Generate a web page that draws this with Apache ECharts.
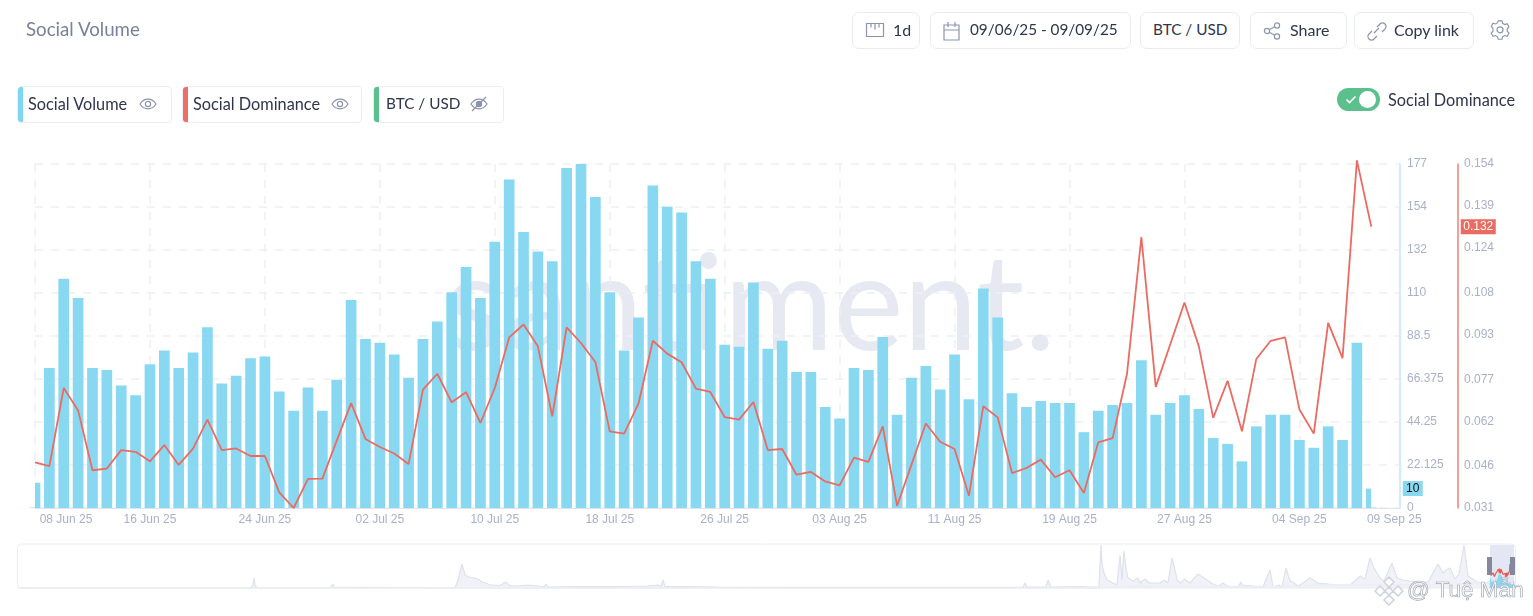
<!DOCTYPE html>
<html><head><meta charset="utf-8">
<style>
html,body{margin:0;padding:0;background:#fff;width:1533px;height:616px;overflow:hidden}
#chart{position:absolute;left:0;top:0;width:1533px;height:616px}
.ui{position:absolute;font-family:Lato,"Open Sans",sans-serif;color:#2f354d;font-size:16px;white-space:nowrap;box-sizing:border-box}
.btn{top:12px;height:37px;border:1px solid #e9ebf3;border-radius:7px;background:#fff;line-height:33px}
.btn span{position:absolute;top:0}
.btn svg,.leg svg{position:absolute}
.leg{top:86px;height:37px;border:1px solid #ebedf4;border-radius:4px;background:#fff;line-height:33px;overflow:hidden;font-size:16.3px}
.leg i{position:absolute;left:0;top:0;bottom:0;width:5px}
.leg span{position:absolute;top:0}
svg{fill:none;stroke:#8d93ad;stroke-width:1.2}
</style></head><body>
<div id="chart"></div>
<div class="ui" style="left:26px;top:18px;font-size:18.7px;color:#7a8099">Social Volume</div>

<div class="ui btn" style="left:852px;width:68px"><svg style="left:12px;top:9px" width="20" height="16"><path d="M1.5 1.5h17v13h-17zM6 1.5v4M10 1.5v6M14 1.5v4"/></svg><span style="left:40px">1d</span></div>
<div class="ui btn" style="left:930px;width:201px"><svg style="left:11px;top:7px" width="20" height="22"><path d="M2 5h15v15H2zM2 10h15M6 2v5M13 2v5"/></svg><span style="left:39px;font-size:15.3px">09/06/25 - 09/09/25</span></div>
<div class="ui btn" style="left:1140px;width:100px"><span style="left:12px;font-size:15.3px">BTC / USD</span></div>
<div class="ui btn" style="left:1250px;width:97px"><svg style="left:12px;top:9px" width="20" height="18"><circle cx="4" cy="9" r="2.6"/><circle cx="14" cy="3.5" r="2.6"/><circle cx="14" cy="14.5" r="2.6"/><path d="M6.3 7.8l5.4-3M6.3 10.2l5.4 3"/></svg><span style="left:39px">Share</span></div>
<div class="ui btn" style="left:1354px;width:120px"><svg style="left:10px;top:7px" width="22" height="22"><path d="M9 13l5-5M7 11l-3 3a3.4 3.4 0 0 0 5 5l3-3M12 7l3-3a3.4 3.4 0 0 1 5 5l-3 3"/></svg><span style="left:39px">Copy link</span></div>
<svg class="ui" style="left:1490px;top:20px" width="20" height="20"><path d="M8 1.5h4l.6 2.6 2.3 1.3 2.5-.8 2 3.4-1.9 1.9v2.6l1.9 1.9-2 3.4-2.5-.8-2.3 1.3-.6 2.6H8l-.6-2.6-2.3-1.3-2.5.8-2-3.4 1.9-1.9V9.3L.6 7.4l2-3.4 2.5.8 2.3-1.3z" transform="translate(0.6 -0.6) scale(.95)"/><circle cx="10" cy="9.8" r="3"/></svg>

<div class="ui leg" style="left:17px;width:155px"><i style="background:#7fd6f2"></i><span style="left:10px">Social Volume</span><svg style="left:121px;top:10px" width="18" height="14"><path d="M1 7c4-6.5 12-6.5 16 0-4 6.5-12 6.5-16 0z"/><circle cx="9" cy="7" r="2.6"/></svg></div>
<div class="ui leg" style="left:182px;width:180px"><i style="background:#ef6f66"></i><span style="left:10px">Social Dominance</span><svg style="left:148px;top:10px" width="18" height="14"><path d="M1 7c4-6.5 12-6.5 16 0-4 6.5-12 6.5-16 0z"/><circle cx="9" cy="7" r="2.6"/></svg></div>
<div class="ui leg" style="left:373px;width:131px;font-size:15.3px"><i style="background:#5cc08d"></i><span style="left:12px">BTC / USD</span><svg style="left:96px;top:9px" width="18" height="16"><path d="M1 8c4-6.5 12-6.5 16 0-4 6.5-12 6.5-16 0z"/><circle cx="9" cy="8" r="2.6" fill="#8d93ad"/><path d="M2 15L16 1"/></svg></div>

<div class="ui" style="left:1337px;top:88px;width:43px;height:23px;border-radius:12px;background:#5cc08d"><svg style="position:absolute;left:8px;top:6px;stroke:#fff;stroke-width:1.6" width="12" height="11"><path d="M1.5 5.5l3 3 6-6"/></svg><div style="position:absolute;left:22px;top:3px;width:17px;height:17px;border-radius:50%;background:#fff"></div></div>
<div class="ui" style="left:1388px;top:90px;font-size:16.3px">Social Dominance</div>

<div class="ui" style="left:1374px;top:574px;width:155px;height:36px;pointer-events:none">
<svg style="position:absolute;left:0;top:2px;stroke:#cfd2de;fill:#fff;stroke-width:1.5" width="30" height="30" viewBox="0 0 30 30"><path d="M15 1l5 5-5 5-5-5zM15 19l5 5-5 5-5-5zM6 10l5 5-5 5-5-5zM24 10l5 5-5 5-5-5zM15 11l4 4-4 4-4-4z"/></svg>
<div style="position:absolute;left:33px;top:3px;font:400 22.5px 'Liberation Sans',sans-serif;color:#fff;-webkit-text-stroke:.7px #a6a9b6">@ Tuệ Mẫn</div>
</div>

<script src="https://cdn.jsdelivr.net/npm/echarts@6/dist/echarts.min.js"></script>
<script>
const dates = ["08 Jun 25","09 Jun 25","10 Jun 25","11 Jun 25","12 Jun 25","13 Jun 25","14 Jun 25","15 Jun 25","16 Jun 25","17 Jun 25","18 Jun 25","19 Jun 25","20 Jun 25","21 Jun 25","22 Jun 25","23 Jun 25","24 Jun 25","25 Jun 25","26 Jun 25","27 Jun 25","28 Jun 25","29 Jun 25","30 Jun 25","01 Jul 25","02 Jul 25","03 Jul 25","04 Jul 25","05 Jul 25","06 Jul 25","07 Jul 25","08 Jul 25","09 Jul 25","10 Jul 25","11 Jul 25","12 Jul 25","13 Jul 25","14 Jul 25","15 Jul 25","16 Jul 25","17 Jul 25","18 Jul 25","19 Jul 25","20 Jul 25","21 Jul 25","22 Jul 25","23 Jul 25","24 Jul 25","25 Jul 25","26 Jul 25","27 Jul 25","28 Jul 25","29 Jul 25","30 Jul 25","31 Jul 25","01 Aug 25","02 Aug 25","03 Aug 25","04 Aug 25","05 Aug 25","06 Aug 25","07 Aug 25","08 Aug 25","09 Aug 25","10 Aug 25","11 Aug 25","12 Aug 25","13 Aug 25","14 Aug 25","15 Aug 25","16 Aug 25","17 Aug 25","18 Aug 25","19 Aug 25","20 Aug 25","21 Aug 25","22 Aug 25","23 Aug 25","24 Aug 25","25 Aug 25","26 Aug 25","27 Aug 25","28 Aug 25","29 Aug 25","30 Aug 25","31 Aug 25","01 Sep 25","02 Sep 25","03 Sep 25","04 Sep 25","05 Sep 25","06 Sep 25","07 Sep 25","08 Sep 25","09 Sep 25"];
const axisPaddingDates = ["10 Sep 25","11 Sep 25"];
const socialVolume = [13,72,118,108,72,71,63,58,74,81,72,80,93,64,68,77,78,60,50,62,50,66,107,87,85,79,67,87,96,111,124,108,137,169,142,132,127,175,177,160,111,81,98,166,155,152,127,118,84,83,116,82,86,70,70,52,46,72,71,88,48,67,73,61,79,56,113,98,59,52,55,54,54,39,50,53,54,76,48,54,58,51,36,33,24,42,48,48,35,31,42,35,85,10];
const socialDominance = [.0473,.0460,.0739,.0659,.0445,.0451,.0517,.0511,.0477,.0535,.0464,.0522,.0626,.0517,.0523,.0496,.0496,.0366,.0310,.0414,.0415,.0551,.0685,.0557,.0528,.0505,.0467,.0733,.0790,.0688,.0724,.0614,.0739,.0920,.0966,.0888,.0638,.0956,.0900,.0832,.0584,.0576,.0683,.0908,.0862,.0831,.0737,.0725,.0635,.0626,.0689,.0517,.0521,.0429,.0439,.0405,.0391,.0490,.0475,.0602,.0318,.0465,.0612,.0547,.0521,.0354,.0674,.0634,.0435,.0453,.0483,.0420,.0445,.0364,.0545,.0560,.0790,.1279,.0743,.0894,.1045,.0888,.0632,.0765,.0584,.0843,.0908,.0920,.0662,.0576,.0972,.0846,.1553,.1316];
const volumeTickLabels = ["0","22.125","44.25","66.375","88.5","110","132","154","177"];
const dominanceTicks = [.031,.046,.062,.077,.093,.108,.124,.139,.154];
const overviewPos = [0,233,235,236,237,239,312,314,315,316,318,437,440,444,447,451,456,460,464,468,472,476,482,488,491,494,500,510,520,526,528,530,560,600,630,640,643,645,647,670,700,760,900,1005,1007,1009,1028,1030,1031,1033,1060,1074,1078,1081,1083,1084,1086,1089,1095,1099,1101,1102,1104,1106,1108,1110,1115,1120,1122,1123,1127,1131,1136,1142,1146,1150,1154,1157,1159,1163,1166,1172,1180,1195,1200,1205,1210,1220,1222,1223,1224,1226,1245,1252,1254,1255,1257,1261,1264,1268,1272,1276,1280,1285,1292,1300,1310,1322,1327,1332,1338,1342,1347,1352,1356,1362,1366,1374,1379,1385,1392,1400,1410,1415,1420,1425,1428,1432,1437,1441,1446,1450,1453,1456,1459,1461,1465,1470,1474,1484,1496];
const overviewVal = [0,0,3,10,3,0,0,1,4,1,0,0,8,24,13,11,10,9,6,5,3,3,2.5,6,3,2,2,3,2,1,4,1,1.5,1.5,2,3,1.5,8,1.5,1.5,1,.7,.6,.6,5,.8,.8,8,8,.8,1.5,.8,1,1,43,25,15,8,5,3,2,33,8,37,20,10,7,10,5,6,9,5,5,5,8,5,30,18,8,5,9,5,14,4,2,5,1.5,1,2,6,3,1,1,18,18,1,1.5,3,1,20,7,5,2,5,10,5,4,3,2.5,3,8,12,9,30,20,10,7,25,10,8,7,6,6,15,24,15,18,20,9,14,43,12,10,8,6,6,5,6,8,5,4];
const overviewLow = [0,1082,1110,1200,1280,1300,1340,1400,1470,1496];
const overviewLowVal = [0,0,2,1.5,1.5,3,3,3,5,4];

const chart = echarts.init(document.getElementById('chart'));
const tick = {color:'#aab0c8',fontSize:12,fontFamily:'"Liberation Sans",Arial,sans-serif'};
const dash = {color:'#eeeff7',width:1.5,type:[8,8]};
const G = {left:35,top:164,height:344};
const hiddenY = (i,min,max)=>({gridIndex:i,type:'value',min,max,show:false,splitLine:{show:false}});
chart.setOption({
  animation:false,
  graphic:[
    {type:'text',z:-1,silent:true,style:{text:'santiment.',x:445,y:374,verticalAlign:'bottom',fill:'#e6e9f2',font:'400 133px Lato,sans-serif'}},
    {type:'rect',z:0,silent:true,shape:{x:17.5,y:544,width:1498,height:44,r:4},style:{fill:'none',stroke:'#eaecf3',lineWidth:1}},
    {type:'rect',z:0,silent:true,shape:{x:1490,y:545,width:24,height:43},style:{fill:'#e4e7f3'}},
    {type:'rect',z:50,silent:true,shape:{x:1487,y:557,width:5,height:18},style:{fill:'#85889a'}},
    {type:'rect',z:50,silent:true,shape:{x:1510,y:557,width:5,height:18},style:{fill:'#85889a'}},
    {type:'rect',z:10,silent:true,shape:{x:27,y:480,width:8,height:27.5},style:{fill:'#fff'}},
    {type:'rect',z:10,silent:true,shape:{x:1371.2,y:485,width:8,height:22.5},style:{fill:'#fff'}}
  ],
  grid:[
    {...G,width:1365},
    {...G,width:1365*93/95},
    {left:18,top:545,width:1496,height:43},
    {left:1490,top:545,width:24,height:43}
  ],
  xAxis:[
    {gridIndex:0,type:'category',boundaryGap:false,data:dates.concat(axisPaddingDates),
      axisLine:{lineStyle:{color:'#dfe3ef'}},axisTick:{show:false},
      splitLine:{show:true,interval:i=>i%8===0,lineStyle:dash},
      axisLabel:{...tick,margin:6,hideOverlap:false,interval:i=>i%8===0||i===93,
        formatter:(v,i)=>i===0?`{a|${v}}`:i===93?`{b|${v}}`:`{c|${v}}`,
        rich:{a:{...tick,padding:[0,0,0,62]},b:{...tick,padding:[0,0,0,46]},c:{...tick}}}},
    {gridIndex:1,type:'category',boundaryGap:false,data:dates,show:false},
    {gridIndex:2,type:'value',min:0,max:1496,show:false},
    {gridIndex:3,type:'category',boundaryGap:false,data:dates,show:false}
  ],
  yAxis:[
    {gridIndex:0,type:'value',position:'right',min:0,max:177,interval:22.125,
      axisLine:{show:true,lineStyle:{color:'#bfe9f6',width:1.5}},axisTick:{show:false},
      splitLine:{show:true,lineStyle:dash},
      axisLabel:{...tick,margin:7,padding:[4,0,0,0],formatter:v=>volumeTickLabels[Math.round(v/22.125)]}},
    {gridIndex:0,type:'value',position:'right',offset:58,min:.031,max:.154,
      axisLine:{show:true,onZero:false,lineStyle:{color:'#ef7f78',width:1.5}},axisTick:{show:false},
      splitLine:{show:false},
      axisLabel:{...tick,margin:6,padding:[4,0,0,0],customValues:dominanceTicks,formatter:v=>v.toFixed(3)}},
    hiddenY(1,0,177),
    hiddenY(1,.031,.154),
    hiddenY(2,0,43),
    hiddenY(3,0,550),
    hiddenY(3,-.05,.272)
  ],
  series:[
    {name:'Social Volume',type:'bar',xAxisIndex:1,yAxisIndex:2,data:socialVolume,barWidth:10.7,
      itemStyle:{color:'#89d8f2'},z:2,
      markPoint:{silent:true,z:20,symbol:'rect',symbolSize:[20,15],symbolOffset:[41.5,0],itemStyle:{color:'#89d8f2'},
        label:{show:true,position:'inside',color:'#111',fontSize:12,fontFamily:tick.fontFamily,formatter:'{c}'},
        data:[{coord:[dates[93],socialVolume[93]],value:socialVolume[93]}]}},
    {name:'Social Dominance',type:'line',xAxisIndex:1,yAxisIndex:3,data:socialDominance,clip:false,z:11,
      symbol:'none',lineStyle:{color:'#eb6a62',width:1.8},
      markPoint:{silent:true,z:20,symbol:'rect',symbolSize:[35,15],symbolOffset:[107,0],itemStyle:{color:'#eb6a62'},
        label:{show:true,position:'inside',color:'#fff',fontSize:12,fontFamily:tick.fontFamily,formatter:p=>'0.132'},
        data:[{coord:[dates[93],socialDominance[93]],value:socialDominance[93]}]}},
    {name:'Overview',type:'line',xAxisIndex:2,yAxisIndex:4,symbol:'none',silent:true,z:1,
      data:overviewPos.map((p,i)=>[p,overviewVal[i]]),
      lineStyle:{color:'#dfe1ec',width:1.2},areaStyle:{color:'#eaecf4'}},
    {name:'Overview low',type:'line',xAxisIndex:2,yAxisIndex:4,symbol:'none',silent:true,z:1,
      data:overviewLow.map((p,i)=>[p,overviewLowVal[i]]),lineStyle:{color:'#eceef5',width:1.5}},
    {name:'Mini volume',type:'bar',xAxisIndex:3,yAxisIndex:5,data:socialVolume,barWidth:1,silent:true,itemStyle:{color:'#89d8f2'},z:5},
    {name:'Mini dominance',type:'line',xAxisIndex:3,yAxisIndex:6,data:socialDominance,symbol:'none',silent:true,lineStyle:{color:'#eb5a50',width:1.2},z:6}
  ]
});
</script>
</body></html>
